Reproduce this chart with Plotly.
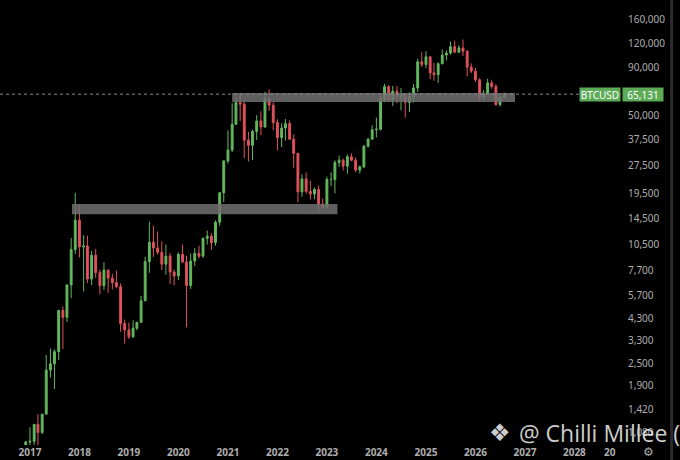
import math
import plotly.graph_objects as go

# ---------------- data (monthly BTCUSD candles) ----------------
months = [
    "2016-12",
    "2017-01","2017-02","2017-03","2017-04","2017-05","2017-06","2017-07","2017-08","2017-09","2017-10","2017-11","2017-12",
    "2018-01","2018-02","2018-03","2018-04","2018-05","2018-06","2018-07","2018-08","2018-09","2018-10","2018-11","2018-12",
    "2019-01","2019-02","2019-03","2019-04","2019-05","2019-06","2019-07","2019-08","2019-09","2019-10","2019-11","2019-12",
    "2020-01","2020-02","2020-03","2020-04","2020-05","2020-06","2020-07","2020-08","2020-09","2020-10","2020-11","2020-12",
    "2021-01","2021-02","2021-03","2021-04","2021-05","2021-06","2021-07","2021-08","2021-09","2021-10","2021-11","2021-12",
    "2022-01","2022-02","2022-03","2022-04","2022-05","2022-06","2022-07","2022-08","2022-09","2022-10","2022-11","2022-12",
    "2023-01","2023-02","2023-03","2023-04","2023-05","2023-06","2023-07","2023-08","2023-09","2023-10","2023-11","2023-12",
    "2024-01","2024-02","2024-03","2024-04","2024-05","2024-06","2024-07","2024-08","2024-09","2024-10","2024-11","2024-12",
    "2025-01","2025-02","2025-03","2025-04","2025-05","2025-06","2025-07","2025-08","2025-09","2025-10","2025-11","2025-12",
    "2026-01","2026-02","2026-03","2026-04","2026-05","2026-06","2026-07","2026-08",
]
opens = [
    745,
    963, 970, 1190, 1080, 1348, 2300, 2480, 2875, 4735, 4360, 6450, 9900,
    14160, 10220, 10330, 6925, 9240, 7500, 6390, 7730, 7010, 6630, 6320, 4040,
    3740, 3440, 3820, 4100, 5320, 8560, 10820, 10090, 9590, 8300, 9150, 7550,
    7190, 9350, 8520, 6410, 8620, 9450, 9140, 11350, 11650, 10780, 13800, 19700,
    28990, 33110, 45200, 58800, 57700, 37300, 35040, 41460, 47100, 43790, 61320, 57000,
    46210, 38480, 43190, 45530, 37710, 31790, 19930, 23300, 20050, 19420, 20490, 17170,
    16540, 23130, 23140, 28480, 29250, 27220, 30480, 29230, 25940, 26970, 34650, 37720,
    42280, 42580, 61200, 71300, 60640, 67500, 62700, 64600, 58970, 63330, 70200, 96400,
    93400, 102400, 84300, 82500, 94200, 104600, 107100, 115800, 108200, 114000, 109600, 90400,
    86000, 77500, 63000, 66000, 74600, 71500, 57500, 62500,
]
highs = [
    975,
    1150, 1200, 1350, 1350, 2760, 2980, 2950, 4770, 4980, 6480, 11400, 19700,
    17200, 11780, 11700, 9760, 9990, 7760, 8500, 7750, 7400, 7680, 6570, 4240,
    4090, 4200, 4130, 5640, 9070, 13880, 13200, 12330, 10950, 10540, 9510, 7750,
    9580, 10500, 9190, 9440, 10070, 10380, 11440, 12470, 12070, 14100, 19900, 29300,
    41950, 58350, 61780, 64900, 59600, 41300, 42400, 50500, 52900, 67000, 69000, 59100,
    47990, 45800, 48190, 47440, 39980, 31950, 24670, 25200, 22800, 20990, 21470, 18400,
    23960, 25250, 29190, 31000, 29820, 31390, 31800, 30200, 27480, 35200, 38420, 44700,
    48970, 64000, 73800, 72800, 72000, 71980, 70000, 65600, 66500, 73600, 99800, 108300,
    109600, 102800, 95000, 95800, 111900, 110500, 123200, 124500, 117900, 126200, 111000, 94500,
    89500, 79000, 68500, 78500, 77000, 73500, 63500, 66500,
]
lows = [
    740,
    752, 915, 890, 1060, 1350, 2100, 1830, 2600, 2970, 4110, 5500, 9400,
    9000, 5970, 6600, 6430, 7030, 5750, 6070, 5880, 6110, 6200, 3650, 3160,
    3350, 3390, 3730, 4070, 5350, 7480, 9070, 9320, 7730, 7300, 6530, 6430,
    6850, 8450, 3860, 6150, 8100, 8900, 8970, 10530, 9880, 10380, 13220, 17600,
    28130, 32300, 45000, 47050, 30000, 28800, 29300, 37400, 39600, 43300, 53250, 42000,
    32950, 34320, 37160, 37700, 26700, 17600, 18780, 19540, 18150, 18200, 15500, 16300,
    16500, 21400, 19570, 26940, 25810, 24800, 28860, 25350, 24900, 26560, 34100, 37600,
    38500, 41880, 59100, 59600, 56500, 58400, 53500, 49000, 52550, 58900, 66800, 90500,
    89200, 78200, 76600, 74600, 93400, 98200, 105100, 107300, 107300, 103500, 80600, 84000,
    75500, 59800, 60500, 64800, 69500, 56500, 56000, 62000,
]
closes = [
    963,
    970, 1190, 1080, 1348, 2300, 2480, 2875, 4735, 4360, 6450, 9900, 14160,
    10220, 10330, 6925, 9240, 7500, 6390, 7730, 7010, 6630, 6320, 4040, 3740,
    3440, 3820, 4100, 5320, 8560, 10820, 10090, 9590, 8300, 9150, 7550, 7190,
    9350, 8520, 6410, 8620, 9450, 9140, 11350, 11650, 10780, 13800, 19700, 28990,
    33110, 45200, 58800, 57700, 37300, 35040, 41460, 47100, 43790, 61320, 57000, 46210,
    38480, 43190, 45530, 37710, 31790, 19930, 23300, 20050, 19420, 20490, 17170, 16540,
    23130, 23140, 28480, 29250, 27220, 30480, 29230, 25940, 26970, 34650, 37720, 42280,
    42580, 61200, 71300, 60640, 67500, 62700, 64600, 58970, 63330, 70200, 96400, 93400,
    102400, 84300, 82500, 94200, 104600, 107100, 115800, 108200, 114000, 109600, 90400, 86000,
    77500, 63000, 66000, 74600, 71500, 57500, 62500, 65131,
]

last_price = 65131
symbol = "BTCUSD"

# horizontal support / resistance zones: (start, end, low, high)
zones = [
    ("2017-11-07", "2023-03-20", 15200, 17200),
    ("2021-02-01", "2026-10-20", 59200, 66100),
]

price_ticks = [1080, 1420, 1900, 2500, 3300, 4300, 5700, 7700, 10500, 14500,
               19500, 27500, 37500, 50000, 90000, 120000, 160000]
year_ticks = [str(y) for y in range(2017, 2029)]

# ---------------- figure ----------------
GREEN = "#63b85e"
RED = "#e0525c"
AXIS_TXT = "#aeaeae"
FONT = "Noto Sans"

fig = go.Figure()
fig.add_trace(go.Candlestick(
    x=[m + "-01" for m in months],
    open=opens, high=highs, low=lows, close=closes,
    increasing=dict(line=dict(color=GREEN, width=1), fillcolor=GREEN),
    decreasing=dict(line=dict(color=RED, width=1), fillcolor=RED),
    whiskerwidth=0,
    showlegend=False,
    hoverinfo="skip",
))

shapes = []
for x0, x1, lo, hi in zones:
    shapes.append(dict(type="rect", xref="x", yref="y", x0=x0, x1=x1, y0=lo, y1=hi,
                       fillcolor="rgba(112,112,112,0.85)", line=dict(width=0), layer="above"))
# dotted last-price line
shapes.append(dict(type="line", xref="paper", yref="y", x0=0, x1=1, y0=last_price, y1=last_price,
                   line=dict(color="#8a8a8a", width=1, dash="dot"), layer="above"))
# price-scale divider on far right
shapes.append(dict(type="line", xref="paper", yref="paper", x0=1.0815, x1=1.0815, y0=-0.04, y1=1,
                   line=dict(color="#2b2b2b", width=3)))

ly = math.log10(last_price)
annotations = [
    dict(xref="paper", yref="y", x=1, y=ly, xanchor="right", yanchor="middle",
         text=symbol, showarrow=False, bgcolor="#5cab57", width=38, height=11, borderpad=1,
         font=dict(family=FONT, size=10, color="white")),
    dict(xref="paper", yref="y", x=1.002, y=ly, xanchor="left", yanchor="middle",
         text=f"{last_price:,}", showarrow=False, bgcolor="#5cab57", width=38, height=11, borderpad=1,
         font=dict(family=FONT, size=10, color="white")),
    # truncated 2029 label and settings icon
    dict(xref="paper", yref="paper", x=0.982, y=-0.016, xanchor="center", yanchor="middle",
         text="<b>20</b>", showarrow=False, font=dict(family=FONT, size=10, color=AXIS_TXT)),
    dict(xref="paper", yref="paper", x=1.044, y=-0.016, xanchor="center", yanchor="middle",
         text="⚙", showarrow=False, font=dict(family="DejaVu Sans", size=12, color=AXIS_TXT)),
    # watermark
    dict(xref="paper", yref="paper", x=0.805, y=0.028, xanchor="center", yanchor="middle",
         text="❖", showarrow=False, font=dict(family="DejaVu Sans", size=24, color="rgba(235,235,235,0.9)")),
    dict(xref="paper", yref="paper", x=0.833, y=0.028, xanchor="left", yanchor="middle",
         text="@ Chilli Millee (", showarrow=False,
         font=dict(family="Open Sans", size=23, color="rgba(235,235,235,0.88)")),
]

fig.update_layout(
    width=680, height=460,
    paper_bgcolor="#000000", plot_bgcolor="#000000",
    margin=dict(l=0, r=59, t=0, b=15),
    showlegend=False,
    shapes=shapes,
    annotations=annotations,
    xaxis=dict(
        type="date",
        range=["2016-05-25", "2028-12-10"],
        rangeslider=dict(visible=False),
        tickvals=[y + "-01-01" for y in year_ticks],
        ticktext=[f"<b>{y}</b>" for y in year_ticks],
        showgrid=False, zeroline=False, showline=False, ticks="",
        tickfont=dict(family=FONT, size=10, color=AXIS_TXT),
        ticklabelstandoff=0,
        fixedrange=True,
    ),
    yaxis=dict(
        type="log",
        side="right",
        range=[2.9672, 5.3093],
        tickvals=price_ticks,
        ticktext=[f"{v:,}" for v in price_ticks],
        showgrid=False, zeroline=False, showline=False, ticks="",
        tickfont=dict(family=FONT, size=10, color=AXIS_TXT),
        ticklabelstandoff=6,
        fixedrange=True,
    ),
)

fig.write_html(
    "out.html",
    config={"displayModeBar": False},
    post_script="document.body.style.margin='0';document.body.style.overflow='hidden';"
                "document.body.style.background='#000';",
)
